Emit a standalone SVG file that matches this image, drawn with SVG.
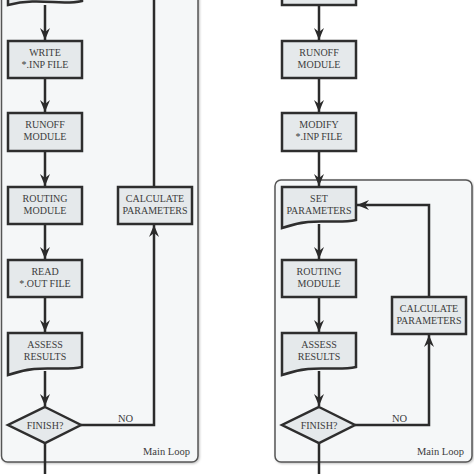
<svg xmlns="http://www.w3.org/2000/svg" width="474" height="474" viewBox="0 0 474 474">
<defs>
<marker id="ah" viewBox="0 0 12 10" markerUnits="userSpaceOnUse" markerWidth="13" markerHeight="10" refX="12" refY="5" orient="auto">
<path d="M0,0 L12,5 L0,10 L4,5 z" fill="#2b2b2b"/>
</marker>
<filter id="sh" x="-5%" y="-5%" width="110%" height="110%">
<feDropShadow dx="1" dy="1" stdDeviation="0.8" flood-color="#000" flood-opacity="0.25"/>
</filter>
</defs>
<style>
.panel{fill:#f5f7f8;stroke:#555;stroke-width:1.5;filter:url(#sh)}
.box{fill:#e5e9eb;stroke:#2e2e2e;stroke-width:2.5}
.t{font-family:"Liberation Serif","DejaVu Serif",serif;font-size:10px;fill:#3c3c3c;text-anchor:middle}
.lbl{font-family:"Liberation Serif","DejaVu Serif",serif;font-size:10.5px;fill:#3c3c3c}
.c{fill:none;stroke:#2b2b2b;stroke-width:2.5}
.a{marker-end:url(#ah)}
</style>
<rect width="474" height="474" fill="#ffffff"/>
<g id="panel-left"><rect class="panel" x="1.5" y="-20" width="196.5" height="482" rx="6"/><text class="lbl" x="143" y="455">Main Loop</text></g>
<g id="panel-right"><rect class="panel" x="275" y="180" width="197" height="282" rx="6"/><text class="lbl" x="417" y="455">Main Loop</text></g>

<g id="connectors">
<path class="c a" d="M45,5 V40"/>
<path class="c a" d="M45,78 V112"/>
<path class="c a" d="M45,151 V186"/>
<path class="c a" d="M45,224 V259"/>
<path class="c a" d="M45,297 V332"/>
<path class="c a" d="M45,371 V406"/>
<path class="c" d="M45,443 V474"/>
<path class="c a" d="M81,425 H154 V225"/>
<path class="c" d="M154,187 V0"/>
<path class="c a" d="M319,5 V40"/>
<path class="c a" d="M319,78 V112"/>
<path class="c a" d="M319,151 V186"/>
<path class="c a" d="M319,224 V259"/>
<path class="c a" d="M319,297 V332"/>
<path class="c a" d="M319,371 V406"/>
<path class="c" d="M319,443 V474"/>
<path class="c a" d="M355,425 H429 V335"/>
<path class="c a" d="M429,297 V205 H357"/>
<text class="lbl" x="118" y="422">NO</text>
<text class="lbl" x="392" y="422">NO</text>
</g>

<g id="start-left"><path class="box" d="M8,-20 H82 V1 C60,6 40,-3 8,5 Z"/></g>
<g id="write"><rect class="box" x="8" y="41" width="74" height="37"/><text class="t" x="45" y="56">WRITE</text><text class="t" x="45" y="68">*.INP FILE</text></g>
<g id="runoff-left"><rect class="box" x="8" y="113" width="74" height="38"/><text class="t" x="45" y="128">RUNOFF</text><text class="t" x="45" y="140">MODULE</text></g>
<g id="routing-left"><rect class="box" x="8" y="187" width="74" height="37"/><text class="t" x="45" y="202">ROUTING</text><text class="t" x="45" y="214">MODULE</text></g>
<g id="read"><rect class="box" x="8" y="260" width="74" height="37"/><text class="t" x="45" y="275">READ</text><text class="t" x="45" y="287">*.OUT FILE</text></g>
<g id="assess-left"><path class="box" d="M8,333 H82 V367 C60,372 40,363 8,375 Z"/><text class="t" x="45" y="348">ASSESS</text><text class="t" x="45" y="360">RESULTS</text></g>
<g id="finish-left"><path class="box" d="M45,407 L81,425 L45,443 L8,425 Z"/><text class="t" x="45" y="429">FINISH?</text></g>
<g id="calc-left"><rect class="box" x="118" y="187" width="74" height="37"/><text class="t" x="155" y="202">CALCULATE</text><text class="t" x="155" y="214">PARAMETERS</text></g>

<g id="start-right"><rect class="box" x="282" y="-20" width="74" height="25"/></g>
<g id="runoff-right"><rect class="box" x="282" y="41" width="74" height="37"/><text class="t" x="319" y="56">RUNOFF</text><text class="t" x="319" y="68">MODULE</text></g>
<g id="modify"><rect class="box" x="282" y="113" width="74" height="38"/><text class="t" x="319" y="128">MODIFY</text><text class="t" x="319" y="140">*.INP FILE</text></g>
<g id="set"><path class="box" d="M282,187 H356 V220 C334,225 314,216 282,228 Z"/><text class="t" x="319" y="202">SET</text><text class="t" x="319" y="214">PARAMETERS</text></g>
<g id="routing-right"><rect class="box" x="282" y="260" width="74" height="37"/><text class="t" x="319" y="275">ROUTING</text><text class="t" x="319" y="287">MODULE</text></g>
<g id="calc-right"><rect class="box" x="392" y="297" width="74" height="37"/><text class="t" x="429" y="312">CALCULATE</text><text class="t" x="429" y="324">PARAMETERS</text></g>
<g id="assess-right"><path class="box" d="M282,333 H356 V367 C334,372 314,363 282,375 Z"/><text class="t" x="319" y="348">ASSESS</text><text class="t" x="319" y="360">RESULTS</text></g>
<g id="finish-right"><path class="box" d="M319,407 L355,425 L319,443 L282,425 Z"/><text class="t" x="319" y="429">FINISH?</text></g>
</svg>
